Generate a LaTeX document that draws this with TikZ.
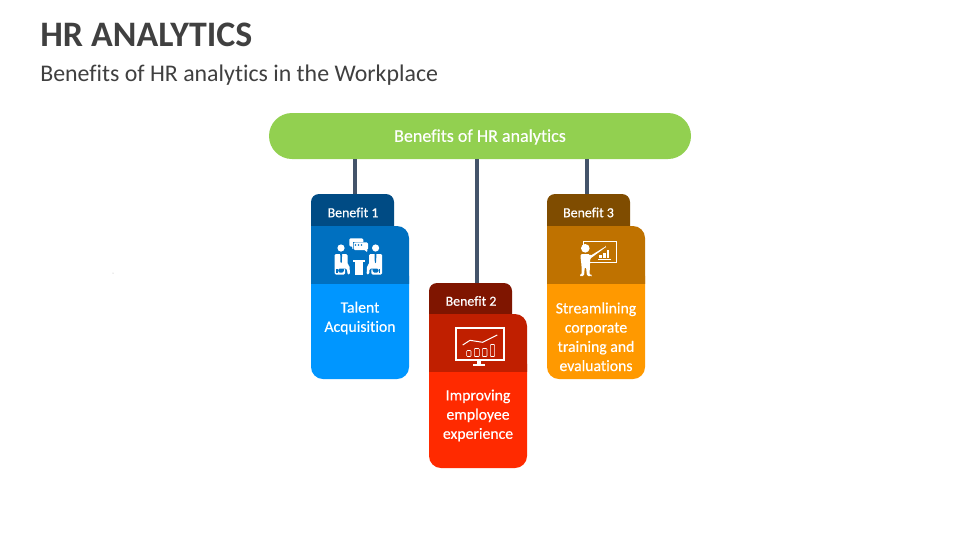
\documentclass[tikz,border=0pt]{standalone}
\usepackage{fontspec}
\setmainfont{Carlito}[Ligatures=NoCommon]
\newfontfamily\medfont[FakeBold=0.35,Ligatures=NoCommon]{Carlito}
\definecolor{titlegrey}{HTML}{404040}
\definecolor{pillgreen}{HTML}{92D050}
\definecolor{linkblue}{HTML}{44546A}
\definecolor{tabA}{HTML}{004B84}
\definecolor{bandA}{HTML}{0070C0}
\definecolor{lowA}{HTML}{0096FF}
\definecolor{tabB}{HTML}{7F1500}
\definecolor{bandB}{HTML}{C01F00}
\definecolor{lowB}{HTML}{FF2A00}
\definecolor{tabC}{HTML}{7F4C00}
\definecolor{bandC}{HTML}{BF7200}
\definecolor{lowC}{HTML}{FF9900}
\tikzset{
  pill/.style={fill=pillgreen,rounded corners=17.25pt,minimum width=316.5pt,minimum height=34.5pt,inner sep=0pt},
  linkline/.style={draw=linkblue,line width=3pt},
  tablabel/.style={text=white,inner sep=0pt,font=\medfont\fontsize{10.4}{11}\selectfont},
  cardlabel/.style={text=white,inner sep=0pt,align=center,font=\medfont\fontsize{11.8}{14.4}\selectfont},
  iconline/.style={draw=white,line width=0.75pt},
  iconthin/.style={draw=white,line width=0.4pt},
}
% #1 x left, #2 tab top, #3 card top, #4 band bottom, #5 card bottom, #6 tab, #7 band, #8 low
\newcommand{\benefitcard}[8]{%
  \fill[#6,rounded corners=6pt] (#1,#2) rectangle (#1+83,#3+10);
  \fill[#8,rounded corners=9pt] (#1,#4-20) rectangle (#1+98,#5);
  \fill[#7] (#1,#4-10) rectangle (#1+98,#4-0.7);
  \begin{scope}
    \clip (#1,#3) rectangle (#1+98,#4-0.7);
    \fill[#7,rounded corners=9pt] (#1-12,#3) rectangle (#1+98,#4+30);
  \end{scope}
}
\begin{document}
\begin{tikzpicture}[x=0.75pt,y=-0.75pt]
\useasboundingbox (0,0) rectangle (960,540);
\fill[white] (0,0) rectangle (960,540);
% titles
\node[anchor=west,inner sep=0pt,text=titlegrey,font=\fontsize{26.9}{30}\selectfont\bfseries] (title) at (40,34.7) {HR ANALYTICS};
\node[anchor=west,inner sep=0pt,text=titlegrey,font=\fontsize{17.9}{20}\selectfont] (subtitle) at (40,75) {Benefits of HR analytics in the Workplace};
\fill[gray!60] (113,273) circle (0.5);
% header
\node[pill] (head) at (480,136) {};
\node[text=white,inner sep=0pt,font=\medfont\fontsize{13.5}{15}\selectfont] (headtext) at (480,137) {Benefits of HR analytics};
\coordinate (c1) at (355,196);
\coordinate (c2) at (477,285);
\coordinate (c3) at (587,196);
\draw[linkline] (head.south -| c1) -- (c1);
\draw[linkline] (head.south -| c2) -- (c2);
\draw[linkline] (head.south -| c3) -- (c3);
% cards
\benefitcard{311}{194}{226}{284}{379}{tabA}{bandA}{lowA}
\benefitcard{429}{283}{314}{372}{468}{tabB}{bandB}{lowB}
\benefitcard{547}{194}{226}{284}{379}{tabC}{bandC}{lowC}
\node[tablabel] (t1) at (353,212.5) {Benefit 1};
\node[tablabel] (t2) at (471,301) {Benefit 2};
\node[tablabel] (t3) at (588.5,212.5) {Benefit 3};
\node[cardlabel] (l1) at (360,318) {Talent\\Acquisition};
\node[cardlabel] (l2) at (478,415.5) {Improving\\employee\\experience};
\node[cardlabel] (l3) at (596,336.8) {Streamlining\\corporate\\training and\\evaluations};
% icon 1: meeting
\foreach \m in {0,1}{
\begin{scope}[shift={(716.6*\m,0)},xscale={1-2*\m}]
  \fill[white] (341,248) circle (3.6);
  \fill[white,rounded corners=1pt] (334.5,254) -- (347.5,254) -- (347.5,264.5) -- (349.5,265.5) -- (350,274.5) -- (347.5,274.5) -- (347,268.5) -- (338,268.5) -- (338,272.5) -- (344,272.5) -- (344,269) -- (345.2,269) -- (345.2,274.5) -- (334.5,274.5) -- cycle;
  \fill[bandA] (340.2,254) -- (342.1,254) -- (341.8,262) -- (341.1,263.2) -- (340.5,262) -- cycle;
  \fill[bandA] (336.3,268.5) rectangle (337.6,272.5);
\end{scope}}
\fill[white] (352.5,259.7) rectangle (365.3,262.3);
\fill[white] (355,262.3) rectangle (362.7,275);
\fill[white,rounded corners=1pt] (349.3,238.3) rectangle (363.3,246.5);
\fill[white] (352,246) -- (356,246) -- (352.5,249) -- cycle;
\fill[bandA] (353,241.7) rectangle (368.6,250.6);
\fill[white,rounded corners=1pt] (353.5,242.3) rectangle (368,250);
\fill[white] (364,249.5) -- (367.5,249.5) -- (367,252) -- cycle;
\foreach \dx in {355.5,358.5,361.5} \fill[bandA] (\dx,245) circle (0.8);
% icon 2: monitor
\draw[white,line width=1.1pt] (455.9,327.9) rectangle (504.1,359.8);
\fill[white] (477.4,360) rectangle (480.6,365);
\fill[white] (473.3,364.3) rectangle (485,366.3);
\draw[iconline] (462.7,345) -- (470,340.3) -- (482.7,342.3) -- (497.3,335);
\draw[iconthin,rounded corners=0.6pt] (466.7,350.5) rectangle (471,356.5);
\draw[iconthin,rounded corners=0.6pt] (474.3,348.5) rectangle (479.3,356.5);
\draw[iconthin,rounded corners=0.6pt] (482.3,348.5) rectangle (487,356.5);
\draw[iconthin,rounded corners=0.6pt] (490.3,344.5) rectangle (494.7,356.5);
% icon 3: presenter
\draw[white,line width=0.9pt] (583.5,241.2) rectangle (616.5,262.2);
\fill[bandC] (578,250) rectangle (583.9,266);
\fill[white] (585.3,248.3) circle (4.3);
\fill[white,rounded corners=1pt] (580.6,254) -- (590,254) -- (590,256) -- (605.7,246.4) -- (605.9,247) -- (590,258.8) -- (590,265) -- (589.5,275) -- (591.5,275) -- (591.5,276) -- (587,276) -- (586,267) -- (584.8,267) -- (584,276) -- (580,276) -- (580,275) -- (581.5,275) -- (581.5,265) -- (580.6,258) -- cycle;
\fill[white] (599,254.5) rectangle (601.5,258);
\fill[white] (603,252.5) rectangle (605.5,258);
\fill[white] (606.8,250) rectangle (609.3,258);
\fill[white] (598,258.6) rectangle (610.5,259.6);
\end{tikzpicture}
\end{document}
